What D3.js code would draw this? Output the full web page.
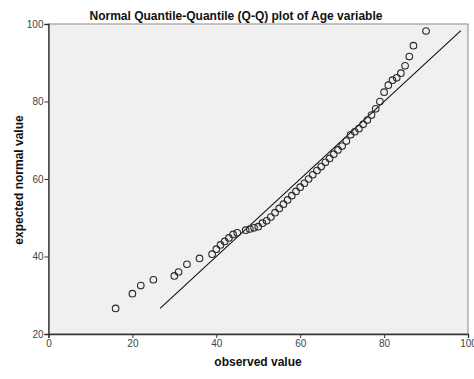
<!DOCTYPE html>
<html><head><meta charset="utf-8">
<script src="https://cdn.jsdelivr.net/npm/d3@7"></script>
<style>body{margin:0;background:#fff;}svg{display:block;font-family:"Liberation Sans",Arial,sans-serif;}</style>
</head><body><svg id="c" width="474" height="379"></svg>
<script>
const observed = [16,20,22,25,30,31,33,36,39,40,41,42,43,44,45,47,48,49,50,51,52,53,54,55,56,57,58,59,60,61,62,63,64,65,66,67,68,69,70,71,72,73,74,75,76,77,78,79,80,81,82,83,84,85,86,87,90];
const expected = [26.6,30.4,32.5,34.0,35.0,36.0,38.0,39.5,40.6,41.9,43.0,43.9,44.8,45.7,46.1,46.8,47.1,47.4,47.7,48.6,49.2,50.2,51.3,52.4,53.5,54.6,55.7,56.8,57.9,58.9,60.0,61.1,62.2,63.2,64.3,65.3,66.4,67.5,68.5,69.8,71.4,72.2,73.0,74.1,75.2,76.5,78.1,80.0,82.4,84.2,85.5,86.1,87.3,89.2,91.6,94.4,98.2];
const refLine = [26.6, 98.3];
const xTicks = [0,20,40,60,80,100];
const yTicks = [20,40,60,80,100];
const title = "Normal Quantile-Quantile (Q-Q) plot of Age variable";
const xLabel = "observed value";
const yLabel = "expected normal value";

const svg = d3.select("#c");
const L = 48.5, R = 468, T = 24, B = 334;
const x = d3.scaleLinear().domain([0,100]).range([L,R]);
const y = d3.scaleLinear().domain([20,100]).range([B,T]);

svg.append("rect").attr("x",L).attr("y",T).attr("width",R-L).attr("height",B-T)
  .attr("fill","#f0f0f0").attr("stroke","#8a8a8a").attr("stroke-width",1);

const xa = svg.append("g").attr("transform",`translate(0,${B})`)
  .call(d3.axisBottom(x).tickValues(xTicks).tickSize(4).tickPadding(2).tickFormat(d3.format("d")));
const ya = svg.append("g").attr("transform",`translate(${L},0)`)
  .call(d3.axisLeft(y).tickValues(yTicks).tickSize(4).tickPadding(1).tickFormat(d3.format("d")));
[xa,ya].forEach(g=>{
  g.select(".domain").attr("stroke","#333").attr("stroke-width",1.3);
  g.selectAll(".tick line").attr("stroke","#333");
  g.selectAll(".tick text").attr("fill","#444").attr("font-size","10px").attr("font-family","Liberation Sans, Arial, sans-serif");
});

svg.append("line")
  .attr("x1",x(refLine[0])).attr("y1",y(refLine[0]))
  .attr("x2",x(refLine[1])).attr("y2",y(refLine[1]))
  .attr("stroke","#111").attr("stroke-width",1.1);

svg.append("g").selectAll("circle").data(observed).join("circle")
  .attr("cx",(d)=>x(d)).attr("cy",(d,i)=>y(expected[i])).attr("r",3.3)
  .attr("fill","none").attr("stroke","#2a2a2a").attr("stroke-width",1.1);

svg.append("text").attr("x",236).attr("y",20).attr("text-anchor","middle")
  .attr("font-size","12px").attr("font-weight","bold").attr("fill","#111").text(title);
svg.append("text").attr("x",258).attr("y",366).attr("text-anchor","middle")
  .attr("font-size","12px").attr("font-weight","bold").attr("fill","#111").text(xLabel);
svg.append("text").attr("transform","translate(23,180) rotate(-90)").attr("text-anchor","middle")
  .attr("font-size","12px").attr("font-weight","bold").attr("fill","#111").text(yLabel);
</script></body></html>
